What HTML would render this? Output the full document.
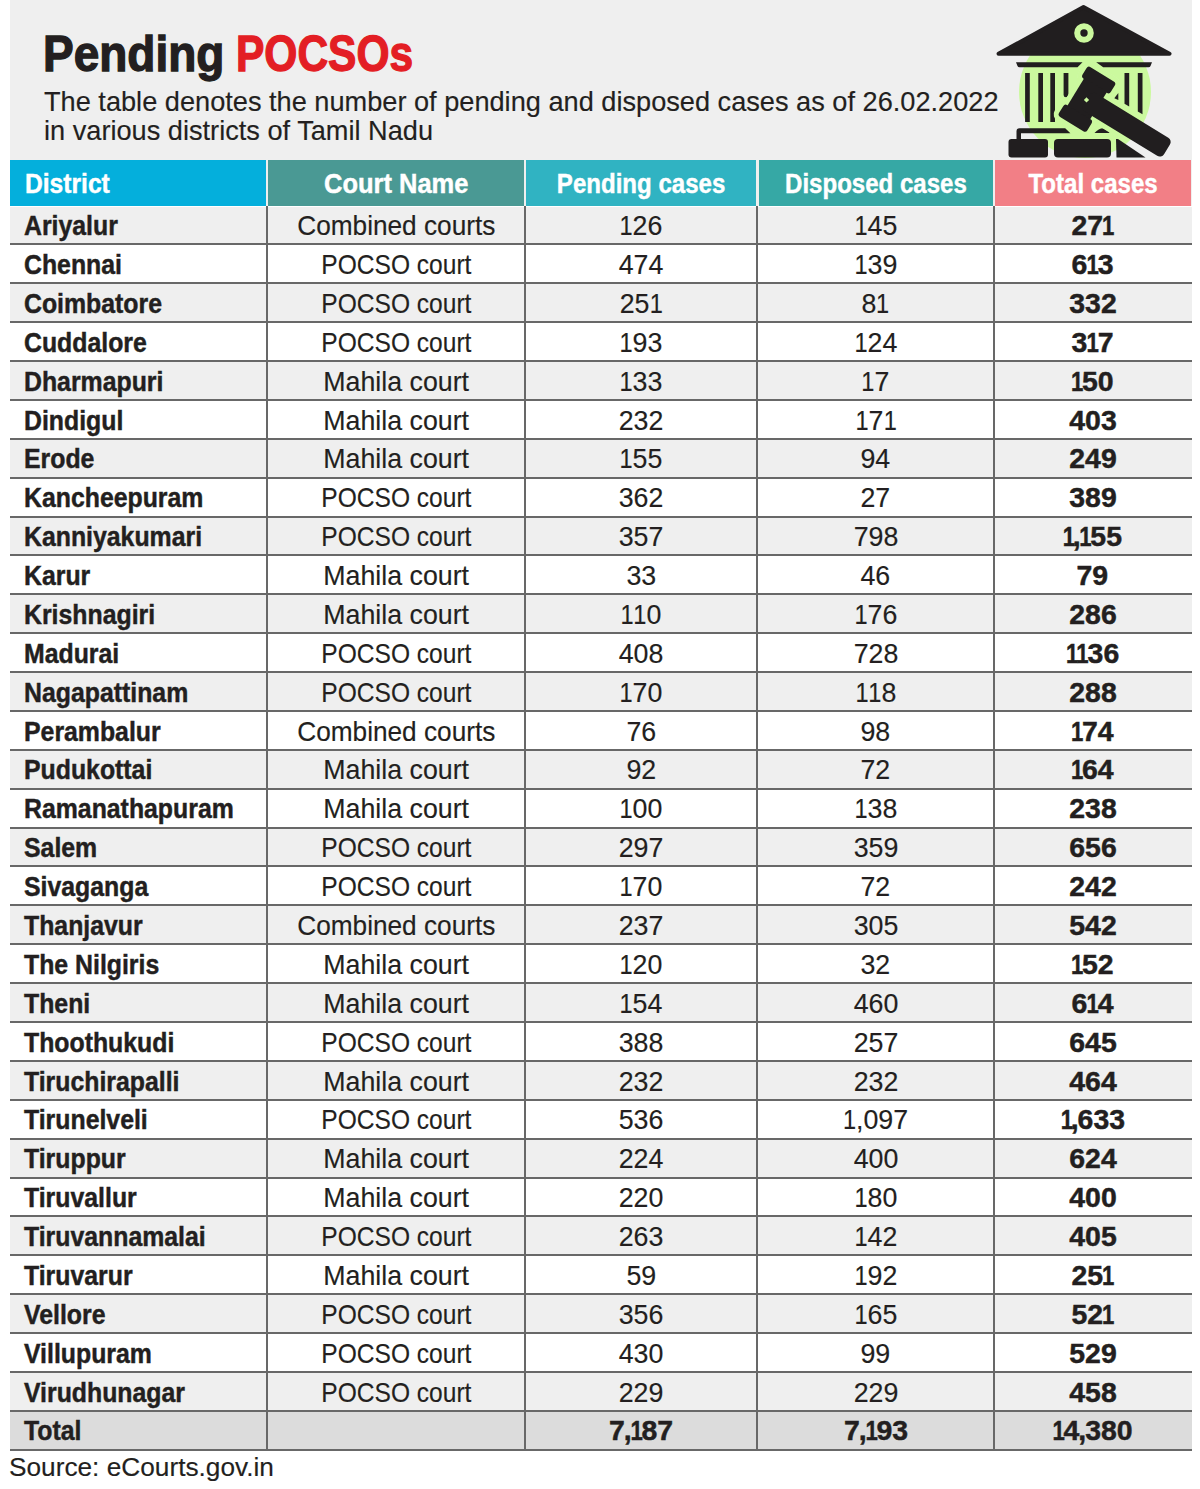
<!DOCTYPE html>
<html><head><meta charset="utf-8"><title>Pending POCSOs</title>
<style>
*{margin:0;padding:0;box-sizing:border-box}
html,body{width:1200px;height:1489px;background:#fff;overflow:hidden}
body{position:relative;font-family:"Liberation Sans",sans-serif;color:#231f20}
.t{position:absolute;white-space:nowrap}
.t span{display:inline-block}
.b{position:absolute}
</style></head><body>

<div class="b" style="left:10px;top:0;width:1181.5px;height:1450px;background:#efefef"></div>
<div class="t" style="left:42.5px;top:29.38px;width:257.5px;font-size:50px;line-height:50px;text-align:left;font-weight:700;color:#231f20;-webkit-text-stroke:1.3px"><span style="transform:scaleX(0.92);transform-origin:left">Pending</span></div>
<div class="t" style="left:236px;top:29.38px;width:364px;font-size:50px;line-height:50px;text-align:left;font-weight:700;color:#e31e24;-webkit-text-stroke:1.3px"><span style="transform:scaleX(0.85);transform-origin:left">POCSOs</span></div>
<div class="t" style="left:44px;top:87.29px;width:1056px;font-size:28.3px;line-height:28.3px;text-align:left;font-weight:400;color:#231f20;-webkit-text-stroke:0.15px"><span style="transform:scaleX(0.96);transform-origin:left">The table denotes the number of pending and disposed cases as of 26.02.2022</span></div>
<div class="t" style="left:44px;top:116.44px;width:1056px;font-size:28.3px;line-height:28.3px;text-align:left;font-weight:400;color:#231f20;-webkit-text-stroke:0.15px"><span style="transform:scaleX(0.96);transform-origin:left">in various districts of Tamil Nadu</span></div>
<div class="b" style="left:10px;top:159.6px;width:255.6px;height:46.2px;background:#04afdc"></div>
<div class="b" style="left:268.4px;top:159.6px;width:255.2px;height:46.2px;background:#4a9994"></div>
<div class="b" style="left:526.4px;top:159.6px;width:229.6px;height:46.2px;background:#30b3c2"></div>
<div class="b" style="left:758.8px;top:159.6px;width:233.8px;height:46.2px;background:#36a8a5"></div>
<div class="b" style="left:995.4px;top:159.6px;width:195.9px;height:46.2px;background:#f27f86"></div>
<div class="t" style="left:25px;top:169.29px;width:235px;font-size:28.3px;line-height:28.3px;text-align:left;font-weight:700;color:#fff;-webkit-text-stroke:0.45px"><span style="transform:scaleX(0.87);transform-origin:left">District</span></div>
<div class="t" style="left:267px;top:169.29px;width:258px;font-size:28.3px;line-height:28.3px;text-align:center;font-weight:700;color:#fff;-webkit-text-stroke:0.45px"><span style="transform:scaleX(0.9);transform-origin:center">Court Name</span></div>
<div class="t" style="left:525px;top:169.29px;width:232.4px;font-size:28.3px;line-height:28.3px;text-align:center;font-weight:700;color:#fff;-webkit-text-stroke:0.45px"><span style="transform:scaleX(0.85);transform-origin:center">Pending cases</span></div>
<div class="t" style="left:757.4px;top:169.29px;width:236.6px;font-size:28.3px;line-height:28.3px;text-align:center;font-weight:700;color:#fff;-webkit-text-stroke:0.45px"><span style="transform:scaleX(0.85);transform-origin:center">Disposed cases</span></div>
<div class="t" style="left:994px;top:169.29px;width:197.3px;font-size:28.3px;line-height:28.3px;text-align:center;font-weight:700;color:#fff;-webkit-text-stroke:0.45px"><span style="transform:scaleX(0.85);transform-origin:center">Total cases</span></div>
<div class="b" style="left:10px;top:207px;width:1181.5px;height:37.4px;background:#efefef"></div>
<div class="b" style="left:10px;top:244.4px;width:1181.5px;height:38.88px;background:#ffffff"></div>
<div class="b" style="left:10px;top:283.28px;width:1181.5px;height:38.88px;background:#efefef"></div>
<div class="b" style="left:10px;top:322.16px;width:1181.5px;height:38.88px;background:#ffffff"></div>
<div class="b" style="left:10px;top:361.04px;width:1181.5px;height:38.88px;background:#efefef"></div>
<div class="b" style="left:10px;top:399.92px;width:1181.5px;height:38.88px;background:#ffffff"></div>
<div class="b" style="left:10px;top:438.8px;width:1181.5px;height:38.88px;background:#efefef"></div>
<div class="b" style="left:10px;top:477.68px;width:1181.5px;height:38.88px;background:#ffffff"></div>
<div class="b" style="left:10px;top:516.56px;width:1181.5px;height:38.88px;background:#efefef"></div>
<div class="b" style="left:10px;top:555.44px;width:1181.5px;height:38.88px;background:#ffffff"></div>
<div class="b" style="left:10px;top:594.32px;width:1181.5px;height:38.88px;background:#efefef"></div>
<div class="b" style="left:10px;top:633.2px;width:1181.5px;height:38.88px;background:#ffffff"></div>
<div class="b" style="left:10px;top:672.08px;width:1181.5px;height:38.88px;background:#efefef"></div>
<div class="b" style="left:10px;top:710.96px;width:1181.5px;height:38.88px;background:#ffffff"></div>
<div class="b" style="left:10px;top:749.84px;width:1181.5px;height:38.88px;background:#efefef"></div>
<div class="b" style="left:10px;top:788.72px;width:1181.5px;height:38.88px;background:#ffffff"></div>
<div class="b" style="left:10px;top:827.6px;width:1181.5px;height:38.88px;background:#efefef"></div>
<div class="b" style="left:10px;top:866.48px;width:1181.5px;height:38.88px;background:#ffffff"></div>
<div class="b" style="left:10px;top:905.36px;width:1181.5px;height:38.88px;background:#efefef"></div>
<div class="b" style="left:10px;top:944.24px;width:1181.5px;height:38.88px;background:#ffffff"></div>
<div class="b" style="left:10px;top:983.12px;width:1181.5px;height:38.88px;background:#efefef"></div>
<div class="b" style="left:10px;top:1022px;width:1181.5px;height:38.88px;background:#ffffff"></div>
<div class="b" style="left:10px;top:1060.88px;width:1181.5px;height:38.88px;background:#efefef"></div>
<div class="b" style="left:10px;top:1099.76px;width:1181.5px;height:38.88px;background:#ffffff"></div>
<div class="b" style="left:10px;top:1138.64px;width:1181.5px;height:38.88px;background:#efefef"></div>
<div class="b" style="left:10px;top:1177.52px;width:1181.5px;height:38.88px;background:#ffffff"></div>
<div class="b" style="left:10px;top:1216.4px;width:1181.5px;height:38.88px;background:#efefef"></div>
<div class="b" style="left:10px;top:1255.28px;width:1181.5px;height:38.88px;background:#ffffff"></div>
<div class="b" style="left:10px;top:1294.16px;width:1181.5px;height:38.88px;background:#efefef"></div>
<div class="b" style="left:10px;top:1333.04px;width:1181.5px;height:38.88px;background:#ffffff"></div>
<div class="b" style="left:10px;top:1371.92px;width:1181.5px;height:38.88px;background:#efefef"></div>
<div class="b" style="left:10px;top:1410.8px;width:1181.5px;height:38.88px;background:#dcdcdc"></div>
<div class="b" style="left:10px;top:243.4px;width:1181.5px;height:2px;background:#686868"></div>
<div class="b" style="left:10px;top:282.28px;width:1181.5px;height:2px;background:#686868"></div>
<div class="b" style="left:10px;top:321.16px;width:1181.5px;height:2px;background:#686868"></div>
<div class="b" style="left:10px;top:360.04px;width:1181.5px;height:2px;background:#686868"></div>
<div class="b" style="left:10px;top:398.92px;width:1181.5px;height:2px;background:#686868"></div>
<div class="b" style="left:10px;top:437.8px;width:1181.5px;height:2px;background:#686868"></div>
<div class="b" style="left:10px;top:476.68px;width:1181.5px;height:2px;background:#686868"></div>
<div class="b" style="left:10px;top:515.56px;width:1181.5px;height:2px;background:#686868"></div>
<div class="b" style="left:10px;top:554.44px;width:1181.5px;height:2px;background:#686868"></div>
<div class="b" style="left:10px;top:593.32px;width:1181.5px;height:2px;background:#686868"></div>
<div class="b" style="left:10px;top:632.2px;width:1181.5px;height:2px;background:#686868"></div>
<div class="b" style="left:10px;top:671.08px;width:1181.5px;height:2px;background:#686868"></div>
<div class="b" style="left:10px;top:709.96px;width:1181.5px;height:2px;background:#686868"></div>
<div class="b" style="left:10px;top:748.84px;width:1181.5px;height:2px;background:#686868"></div>
<div class="b" style="left:10px;top:787.72px;width:1181.5px;height:2px;background:#686868"></div>
<div class="b" style="left:10px;top:826.6px;width:1181.5px;height:2px;background:#686868"></div>
<div class="b" style="left:10px;top:865.48px;width:1181.5px;height:2px;background:#686868"></div>
<div class="b" style="left:10px;top:904.36px;width:1181.5px;height:2px;background:#686868"></div>
<div class="b" style="left:10px;top:943.24px;width:1181.5px;height:2px;background:#686868"></div>
<div class="b" style="left:10px;top:982.12px;width:1181.5px;height:2px;background:#686868"></div>
<div class="b" style="left:10px;top:1021px;width:1181.5px;height:2px;background:#686868"></div>
<div class="b" style="left:10px;top:1059.88px;width:1181.5px;height:2px;background:#686868"></div>
<div class="b" style="left:10px;top:1098.76px;width:1181.5px;height:2px;background:#686868"></div>
<div class="b" style="left:10px;top:1137.64px;width:1181.5px;height:2px;background:#686868"></div>
<div class="b" style="left:10px;top:1176.52px;width:1181.5px;height:2px;background:#686868"></div>
<div class="b" style="left:10px;top:1215.4px;width:1181.5px;height:2px;background:#686868"></div>
<div class="b" style="left:10px;top:1254.28px;width:1181.5px;height:2px;background:#686868"></div>
<div class="b" style="left:10px;top:1293.16px;width:1181.5px;height:2px;background:#686868"></div>
<div class="b" style="left:10px;top:1332.04px;width:1181.5px;height:2px;background:#686868"></div>
<div class="b" style="left:10px;top:1370.92px;width:1181.5px;height:2px;background:#686868"></div>
<div class="b" style="left:10px;top:1409.8px;width:1181.5px;height:2px;background:#686868"></div>
<div class="b" style="left:10px;top:1448.68px;width:1181.5px;height:2px;background:#686868"></div>
<div class="b" style="left:10px;top:205.8px;width:1181.5px;height:1.2px;background:#fff"></div>
<div class="b" style="left:266px;top:205.8px;width:2px;height:1243.88px;background:#686868"></div>
<div class="b" style="left:524px;top:205.8px;width:2px;height:1243.88px;background:#686868"></div>
<div class="b" style="left:756.4px;top:205.8px;width:2px;height:1243.88px;background:#686868"></div>
<div class="b" style="left:993px;top:205.8px;width:2px;height:1243.88px;background:#686868"></div>
<div class="t" style="left:23.5px;top:212.14px;width:238.5px;font-size:27.6px;line-height:27.6px;text-align:left;font-weight:700;color:#231f20;-webkit-text-stroke:0.45px"><span style="transform:scaleX(0.9);transform-origin:left">Ariyalur</span></div>
<div class="t" style="left:267px;top:212.14px;width:258px;font-size:27.6px;line-height:27.6px;text-align:center;font-weight:400;color:#231f20;-webkit-text-stroke:0.15px"><span style="transform:scaleX(0.95);transform-origin:center">Combined courts</span></div>
<div class="t" style="left:525px;top:212.14px;width:232.4px;font-size:27.6px;line-height:27.6px;text-align:center;font-weight:400;color:#231f20;-webkit-text-stroke:0.15px"><span style="transform:scaleX(0.97);transform-origin:center"><b style="font-weight:inherit;display:inline-block;transform:scaleX(0.88);margin:0 -1.0px">1</b>26</span></div>
<div class="t" style="left:757.4px;top:212.14px;width:236.6px;font-size:27.6px;line-height:27.6px;text-align:center;font-weight:400;color:#231f20;-webkit-text-stroke:0.15px"><span style="transform:scaleX(0.97);transform-origin:center"><b style="font-weight:inherit;display:inline-block;transform:scaleX(0.88);margin:0 -1.0px">1</b>45</span></div>
<div class="t" style="left:994px;top:212.14px;width:197.3px;font-size:27.6px;line-height:27.6px;text-align:center;font-weight:700;color:#231f20;-webkit-text-stroke:0.45px"><span style="transform:scaleX(1.03);transform-origin:center">27<b style="font-weight:inherit;display:inline-block;transform:scaleX(0.78);margin:0 -2.5px">1</b></span></div>
<div class="t" style="left:23.5px;top:251.02px;width:238.5px;font-size:27.6px;line-height:27.6px;text-align:left;font-weight:700;color:#231f20;-webkit-text-stroke:0.45px"><span style="transform:scaleX(0.9);transform-origin:left">Chennai</span></div>
<div class="t" style="left:267px;top:251.02px;width:258px;font-size:27.6px;line-height:27.6px;text-align:center;font-weight:400;color:#231f20;-webkit-text-stroke:0.15px"><span style="transform:scaleX(0.89);transform-origin:center">POCSO court</span></div>
<div class="t" style="left:525px;top:251.02px;width:232.4px;font-size:27.6px;line-height:27.6px;text-align:center;font-weight:400;color:#231f20;-webkit-text-stroke:0.15px"><span style="transform:scaleX(0.97);transform-origin:center">474</span></div>
<div class="t" style="left:757.4px;top:251.02px;width:236.6px;font-size:27.6px;line-height:27.6px;text-align:center;font-weight:400;color:#231f20;-webkit-text-stroke:0.15px"><span style="transform:scaleX(0.97);transform-origin:center"><b style="font-weight:inherit;display:inline-block;transform:scaleX(0.88);margin:0 -1.0px">1</b>39</span></div>
<div class="t" style="left:994px;top:251.02px;width:197.3px;font-size:27.6px;line-height:27.6px;text-align:center;font-weight:700;color:#231f20;-webkit-text-stroke:0.45px"><span style="transform:scaleX(1.03);transform-origin:center">6<b style="font-weight:inherit;display:inline-block;transform:scaleX(0.78);margin:0 -2.5px">1</b>3</span></div>
<div class="t" style="left:23.5px;top:289.9px;width:238.5px;font-size:27.6px;line-height:27.6px;text-align:left;font-weight:700;color:#231f20;-webkit-text-stroke:0.45px"><span style="transform:scaleX(0.9);transform-origin:left">Coimbatore</span></div>
<div class="t" style="left:267px;top:289.9px;width:258px;font-size:27.6px;line-height:27.6px;text-align:center;font-weight:400;color:#231f20;-webkit-text-stroke:0.15px"><span style="transform:scaleX(0.89);transform-origin:center">POCSO court</span></div>
<div class="t" style="left:525px;top:289.9px;width:232.4px;font-size:27.6px;line-height:27.6px;text-align:center;font-weight:400;color:#231f20;-webkit-text-stroke:0.15px"><span style="transform:scaleX(0.97);transform-origin:center">25<b style="font-weight:inherit;display:inline-block;transform:scaleX(0.88);margin:0 -1.0px">1</b></span></div>
<div class="t" style="left:757.4px;top:289.9px;width:236.6px;font-size:27.6px;line-height:27.6px;text-align:center;font-weight:400;color:#231f20;-webkit-text-stroke:0.15px"><span style="transform:scaleX(0.97);transform-origin:center">8<b style="font-weight:inherit;display:inline-block;transform:scaleX(0.88);margin:0 -1.0px">1</b></span></div>
<div class="t" style="left:994px;top:289.9px;width:197.3px;font-size:27.6px;line-height:27.6px;text-align:center;font-weight:700;color:#231f20;-webkit-text-stroke:0.45px"><span style="transform:scaleX(1.03);transform-origin:center">332</span></div>
<div class="t" style="left:23.5px;top:328.78px;width:238.5px;font-size:27.6px;line-height:27.6px;text-align:left;font-weight:700;color:#231f20;-webkit-text-stroke:0.45px"><span style="transform:scaleX(0.9);transform-origin:left">Cuddalore</span></div>
<div class="t" style="left:267px;top:328.78px;width:258px;font-size:27.6px;line-height:27.6px;text-align:center;font-weight:400;color:#231f20;-webkit-text-stroke:0.15px"><span style="transform:scaleX(0.89);transform-origin:center">POCSO court</span></div>
<div class="t" style="left:525px;top:328.78px;width:232.4px;font-size:27.6px;line-height:27.6px;text-align:center;font-weight:400;color:#231f20;-webkit-text-stroke:0.15px"><span style="transform:scaleX(0.97);transform-origin:center"><b style="font-weight:inherit;display:inline-block;transform:scaleX(0.88);margin:0 -1.0px">1</b>93</span></div>
<div class="t" style="left:757.4px;top:328.78px;width:236.6px;font-size:27.6px;line-height:27.6px;text-align:center;font-weight:400;color:#231f20;-webkit-text-stroke:0.15px"><span style="transform:scaleX(0.97);transform-origin:center"><b style="font-weight:inherit;display:inline-block;transform:scaleX(0.88);margin:0 -1.0px">1</b>24</span></div>
<div class="t" style="left:994px;top:328.78px;width:197.3px;font-size:27.6px;line-height:27.6px;text-align:center;font-weight:700;color:#231f20;-webkit-text-stroke:0.45px"><span style="transform:scaleX(1.03);transform-origin:center">3<b style="font-weight:inherit;display:inline-block;transform:scaleX(0.78);margin:0 -2.5px">1</b>7</span></div>
<div class="t" style="left:23.5px;top:367.66px;width:238.5px;font-size:27.6px;line-height:27.6px;text-align:left;font-weight:700;color:#231f20;-webkit-text-stroke:0.45px"><span style="transform:scaleX(0.9);transform-origin:left">Dharmapuri</span></div>
<div class="t" style="left:267px;top:367.66px;width:258px;font-size:27.6px;line-height:27.6px;text-align:center;font-weight:400;color:#231f20;-webkit-text-stroke:0.15px"><span style="transform:scaleX(0.97);transform-origin:center">Mahila court</span></div>
<div class="t" style="left:525px;top:367.66px;width:232.4px;font-size:27.6px;line-height:27.6px;text-align:center;font-weight:400;color:#231f20;-webkit-text-stroke:0.15px"><span style="transform:scaleX(0.97);transform-origin:center"><b style="font-weight:inherit;display:inline-block;transform:scaleX(0.88);margin:0 -1.0px">1</b>33</span></div>
<div class="t" style="left:757.4px;top:367.66px;width:236.6px;font-size:27.6px;line-height:27.6px;text-align:center;font-weight:400;color:#231f20;-webkit-text-stroke:0.15px"><span style="transform:scaleX(0.97);transform-origin:center"><b style="font-weight:inherit;display:inline-block;transform:scaleX(0.88);margin:0 -1.0px">1</b>7</span></div>
<div class="t" style="left:994px;top:367.66px;width:197.3px;font-size:27.6px;line-height:27.6px;text-align:center;font-weight:700;color:#231f20;-webkit-text-stroke:0.45px"><span style="transform:scaleX(1.03);transform-origin:center"><b style="font-weight:inherit;display:inline-block;transform:scaleX(0.78);margin:0 -2.5px">1</b>50</span></div>
<div class="t" style="left:23.5px;top:406.54px;width:238.5px;font-size:27.6px;line-height:27.6px;text-align:left;font-weight:700;color:#231f20;-webkit-text-stroke:0.45px"><span style="transform:scaleX(0.9);transform-origin:left">Dindigul</span></div>
<div class="t" style="left:267px;top:406.54px;width:258px;font-size:27.6px;line-height:27.6px;text-align:center;font-weight:400;color:#231f20;-webkit-text-stroke:0.15px"><span style="transform:scaleX(0.97);transform-origin:center">Mahila court</span></div>
<div class="t" style="left:525px;top:406.54px;width:232.4px;font-size:27.6px;line-height:27.6px;text-align:center;font-weight:400;color:#231f20;-webkit-text-stroke:0.15px"><span style="transform:scaleX(0.97);transform-origin:center">232</span></div>
<div class="t" style="left:757.4px;top:406.54px;width:236.6px;font-size:27.6px;line-height:27.6px;text-align:center;font-weight:400;color:#231f20;-webkit-text-stroke:0.15px"><span style="transform:scaleX(0.97);transform-origin:center"><b style="font-weight:inherit;display:inline-block;transform:scaleX(0.88);margin:0 -1.0px">1</b>7<b style="font-weight:inherit;display:inline-block;transform:scaleX(0.88);margin:0 -1.0px">1</b></span></div>
<div class="t" style="left:994px;top:406.54px;width:197.3px;font-size:27.6px;line-height:27.6px;text-align:center;font-weight:700;color:#231f20;-webkit-text-stroke:0.45px"><span style="transform:scaleX(1.03);transform-origin:center">403</span></div>
<div class="t" style="left:23.5px;top:445.42px;width:238.5px;font-size:27.6px;line-height:27.6px;text-align:left;font-weight:700;color:#231f20;-webkit-text-stroke:0.45px"><span style="transform:scaleX(0.9);transform-origin:left">Erode</span></div>
<div class="t" style="left:267px;top:445.42px;width:258px;font-size:27.6px;line-height:27.6px;text-align:center;font-weight:400;color:#231f20;-webkit-text-stroke:0.15px"><span style="transform:scaleX(0.97);transform-origin:center">Mahila court</span></div>
<div class="t" style="left:525px;top:445.42px;width:232.4px;font-size:27.6px;line-height:27.6px;text-align:center;font-weight:400;color:#231f20;-webkit-text-stroke:0.15px"><span style="transform:scaleX(0.97);transform-origin:center"><b style="font-weight:inherit;display:inline-block;transform:scaleX(0.88);margin:0 -1.0px">1</b>55</span></div>
<div class="t" style="left:757.4px;top:445.42px;width:236.6px;font-size:27.6px;line-height:27.6px;text-align:center;font-weight:400;color:#231f20;-webkit-text-stroke:0.15px"><span style="transform:scaleX(0.97);transform-origin:center">94</span></div>
<div class="t" style="left:994px;top:445.42px;width:197.3px;font-size:27.6px;line-height:27.6px;text-align:center;font-weight:700;color:#231f20;-webkit-text-stroke:0.45px"><span style="transform:scaleX(1.03);transform-origin:center">249</span></div>
<div class="t" style="left:23.5px;top:484.3px;width:238.5px;font-size:27.6px;line-height:27.6px;text-align:left;font-weight:700;color:#231f20;-webkit-text-stroke:0.45px"><span style="transform:scaleX(0.9);transform-origin:left">Kancheepuram</span></div>
<div class="t" style="left:267px;top:484.3px;width:258px;font-size:27.6px;line-height:27.6px;text-align:center;font-weight:400;color:#231f20;-webkit-text-stroke:0.15px"><span style="transform:scaleX(0.89);transform-origin:center">POCSO court</span></div>
<div class="t" style="left:525px;top:484.3px;width:232.4px;font-size:27.6px;line-height:27.6px;text-align:center;font-weight:400;color:#231f20;-webkit-text-stroke:0.15px"><span style="transform:scaleX(0.97);transform-origin:center">362</span></div>
<div class="t" style="left:757.4px;top:484.3px;width:236.6px;font-size:27.6px;line-height:27.6px;text-align:center;font-weight:400;color:#231f20;-webkit-text-stroke:0.15px"><span style="transform:scaleX(0.97);transform-origin:center">27</span></div>
<div class="t" style="left:994px;top:484.3px;width:197.3px;font-size:27.6px;line-height:27.6px;text-align:center;font-weight:700;color:#231f20;-webkit-text-stroke:0.45px"><span style="transform:scaleX(1.03);transform-origin:center">389</span></div>
<div class="t" style="left:23.5px;top:523.18px;width:238.5px;font-size:27.6px;line-height:27.6px;text-align:left;font-weight:700;color:#231f20;-webkit-text-stroke:0.45px"><span style="transform:scaleX(0.9);transform-origin:left">Kanniyakumari</span></div>
<div class="t" style="left:267px;top:523.18px;width:258px;font-size:27.6px;line-height:27.6px;text-align:center;font-weight:400;color:#231f20;-webkit-text-stroke:0.15px"><span style="transform:scaleX(0.89);transform-origin:center">POCSO court</span></div>
<div class="t" style="left:525px;top:523.18px;width:232.4px;font-size:27.6px;line-height:27.6px;text-align:center;font-weight:400;color:#231f20;-webkit-text-stroke:0.15px"><span style="transform:scaleX(0.97);transform-origin:center">357</span></div>
<div class="t" style="left:757.4px;top:523.18px;width:236.6px;font-size:27.6px;line-height:27.6px;text-align:center;font-weight:400;color:#231f20;-webkit-text-stroke:0.15px"><span style="transform:scaleX(0.97);transform-origin:center">798</span></div>
<div class="t" style="left:994px;top:523.18px;width:197.3px;font-size:27.6px;line-height:27.6px;text-align:center;font-weight:700;color:#231f20;-webkit-text-stroke:0.45px"><span style="transform:scaleX(1.03);transform-origin:center"><b style="font-weight:inherit;display:inline-block;transform:scaleX(0.78);margin:0 -2.5px">1</b><b style="font-weight:inherit;margin:0 -1px">,</b><b style="font-weight:inherit;display:inline-block;transform:scaleX(0.78);margin:0 -2.5px">1</b>55</span></div>
<div class="t" style="left:23.5px;top:562.06px;width:238.5px;font-size:27.6px;line-height:27.6px;text-align:left;font-weight:700;color:#231f20;-webkit-text-stroke:0.45px"><span style="transform:scaleX(0.9);transform-origin:left">Karur</span></div>
<div class="t" style="left:267px;top:562.06px;width:258px;font-size:27.6px;line-height:27.6px;text-align:center;font-weight:400;color:#231f20;-webkit-text-stroke:0.15px"><span style="transform:scaleX(0.97);transform-origin:center">Mahila court</span></div>
<div class="t" style="left:525px;top:562.06px;width:232.4px;font-size:27.6px;line-height:27.6px;text-align:center;font-weight:400;color:#231f20;-webkit-text-stroke:0.15px"><span style="transform:scaleX(0.97);transform-origin:center">33</span></div>
<div class="t" style="left:757.4px;top:562.06px;width:236.6px;font-size:27.6px;line-height:27.6px;text-align:center;font-weight:400;color:#231f20;-webkit-text-stroke:0.15px"><span style="transform:scaleX(0.97);transform-origin:center">46</span></div>
<div class="t" style="left:994px;top:562.06px;width:197.3px;font-size:27.6px;line-height:27.6px;text-align:center;font-weight:700;color:#231f20;-webkit-text-stroke:0.45px"><span style="transform:scaleX(1.03);transform-origin:center">79</span></div>
<div class="t" style="left:23.5px;top:600.94px;width:238.5px;font-size:27.6px;line-height:27.6px;text-align:left;font-weight:700;color:#231f20;-webkit-text-stroke:0.45px"><span style="transform:scaleX(0.9);transform-origin:left">Krishnagiri</span></div>
<div class="t" style="left:267px;top:600.94px;width:258px;font-size:27.6px;line-height:27.6px;text-align:center;font-weight:400;color:#231f20;-webkit-text-stroke:0.15px"><span style="transform:scaleX(0.97);transform-origin:center">Mahila court</span></div>
<div class="t" style="left:525px;top:600.94px;width:232.4px;font-size:27.6px;line-height:27.6px;text-align:center;font-weight:400;color:#231f20;-webkit-text-stroke:0.15px"><span style="transform:scaleX(0.97);transform-origin:center"><b style="font-weight:inherit;display:inline-block;transform:scaleX(0.88);margin:0 -1.0px">1</b><b style="font-weight:inherit;display:inline-block;transform:scaleX(0.88);margin:0 -1.0px">1</b>0</span></div>
<div class="t" style="left:757.4px;top:600.94px;width:236.6px;font-size:27.6px;line-height:27.6px;text-align:center;font-weight:400;color:#231f20;-webkit-text-stroke:0.15px"><span style="transform:scaleX(0.97);transform-origin:center"><b style="font-weight:inherit;display:inline-block;transform:scaleX(0.88);margin:0 -1.0px">1</b>76</span></div>
<div class="t" style="left:994px;top:600.94px;width:197.3px;font-size:27.6px;line-height:27.6px;text-align:center;font-weight:700;color:#231f20;-webkit-text-stroke:0.45px"><span style="transform:scaleX(1.03);transform-origin:center">286</span></div>
<div class="t" style="left:23.5px;top:639.82px;width:238.5px;font-size:27.6px;line-height:27.6px;text-align:left;font-weight:700;color:#231f20;-webkit-text-stroke:0.45px"><span style="transform:scaleX(0.9);transform-origin:left">Madurai</span></div>
<div class="t" style="left:267px;top:639.82px;width:258px;font-size:27.6px;line-height:27.6px;text-align:center;font-weight:400;color:#231f20;-webkit-text-stroke:0.15px"><span style="transform:scaleX(0.89);transform-origin:center">POCSO court</span></div>
<div class="t" style="left:525px;top:639.82px;width:232.4px;font-size:27.6px;line-height:27.6px;text-align:center;font-weight:400;color:#231f20;-webkit-text-stroke:0.15px"><span style="transform:scaleX(0.97);transform-origin:center">408</span></div>
<div class="t" style="left:757.4px;top:639.82px;width:236.6px;font-size:27.6px;line-height:27.6px;text-align:center;font-weight:400;color:#231f20;-webkit-text-stroke:0.15px"><span style="transform:scaleX(0.97);transform-origin:center">728</span></div>
<div class="t" style="left:994px;top:639.82px;width:197.3px;font-size:27.6px;line-height:27.6px;text-align:center;font-weight:700;color:#231f20;-webkit-text-stroke:0.45px"><span style="transform:scaleX(1.03);transform-origin:center"><b style="font-weight:inherit;display:inline-block;transform:scaleX(0.78);margin:0 -2.5px">1</b><b style="font-weight:inherit;display:inline-block;transform:scaleX(0.78);margin:0 -2.5px">1</b>36</span></div>
<div class="t" style="left:23.5px;top:678.7px;width:238.5px;font-size:27.6px;line-height:27.6px;text-align:left;font-weight:700;color:#231f20;-webkit-text-stroke:0.45px"><span style="transform:scaleX(0.9);transform-origin:left">Nagapattinam</span></div>
<div class="t" style="left:267px;top:678.7px;width:258px;font-size:27.6px;line-height:27.6px;text-align:center;font-weight:400;color:#231f20;-webkit-text-stroke:0.15px"><span style="transform:scaleX(0.89);transform-origin:center">POCSO court</span></div>
<div class="t" style="left:525px;top:678.7px;width:232.4px;font-size:27.6px;line-height:27.6px;text-align:center;font-weight:400;color:#231f20;-webkit-text-stroke:0.15px"><span style="transform:scaleX(0.97);transform-origin:center"><b style="font-weight:inherit;display:inline-block;transform:scaleX(0.88);margin:0 -1.0px">1</b>70</span></div>
<div class="t" style="left:757.4px;top:678.7px;width:236.6px;font-size:27.6px;line-height:27.6px;text-align:center;font-weight:400;color:#231f20;-webkit-text-stroke:0.15px"><span style="transform:scaleX(0.97);transform-origin:center"><b style="font-weight:inherit;display:inline-block;transform:scaleX(0.88);margin:0 -1.0px">1</b><b style="font-weight:inherit;display:inline-block;transform:scaleX(0.88);margin:0 -1.0px">1</b>8</span></div>
<div class="t" style="left:994px;top:678.7px;width:197.3px;font-size:27.6px;line-height:27.6px;text-align:center;font-weight:700;color:#231f20;-webkit-text-stroke:0.45px"><span style="transform:scaleX(1.03);transform-origin:center">288</span></div>
<div class="t" style="left:23.5px;top:717.58px;width:238.5px;font-size:27.6px;line-height:27.6px;text-align:left;font-weight:700;color:#231f20;-webkit-text-stroke:0.45px"><span style="transform:scaleX(0.9);transform-origin:left">Perambalur</span></div>
<div class="t" style="left:267px;top:717.58px;width:258px;font-size:27.6px;line-height:27.6px;text-align:center;font-weight:400;color:#231f20;-webkit-text-stroke:0.15px"><span style="transform:scaleX(0.95);transform-origin:center">Combined courts</span></div>
<div class="t" style="left:525px;top:717.58px;width:232.4px;font-size:27.6px;line-height:27.6px;text-align:center;font-weight:400;color:#231f20;-webkit-text-stroke:0.15px"><span style="transform:scaleX(0.97);transform-origin:center">76</span></div>
<div class="t" style="left:757.4px;top:717.58px;width:236.6px;font-size:27.6px;line-height:27.6px;text-align:center;font-weight:400;color:#231f20;-webkit-text-stroke:0.15px"><span style="transform:scaleX(0.97);transform-origin:center">98</span></div>
<div class="t" style="left:994px;top:717.58px;width:197.3px;font-size:27.6px;line-height:27.6px;text-align:center;font-weight:700;color:#231f20;-webkit-text-stroke:0.45px"><span style="transform:scaleX(1.03);transform-origin:center"><b style="font-weight:inherit;display:inline-block;transform:scaleX(0.78);margin:0 -2.5px">1</b>74</span></div>
<div class="t" style="left:23.5px;top:756.46px;width:238.5px;font-size:27.6px;line-height:27.6px;text-align:left;font-weight:700;color:#231f20;-webkit-text-stroke:0.45px"><span style="transform:scaleX(0.9);transform-origin:left">Pudukottai</span></div>
<div class="t" style="left:267px;top:756.46px;width:258px;font-size:27.6px;line-height:27.6px;text-align:center;font-weight:400;color:#231f20;-webkit-text-stroke:0.15px"><span style="transform:scaleX(0.97);transform-origin:center">Mahila court</span></div>
<div class="t" style="left:525px;top:756.46px;width:232.4px;font-size:27.6px;line-height:27.6px;text-align:center;font-weight:400;color:#231f20;-webkit-text-stroke:0.15px"><span style="transform:scaleX(0.97);transform-origin:center">92</span></div>
<div class="t" style="left:757.4px;top:756.46px;width:236.6px;font-size:27.6px;line-height:27.6px;text-align:center;font-weight:400;color:#231f20;-webkit-text-stroke:0.15px"><span style="transform:scaleX(0.97);transform-origin:center">72</span></div>
<div class="t" style="left:994px;top:756.46px;width:197.3px;font-size:27.6px;line-height:27.6px;text-align:center;font-weight:700;color:#231f20;-webkit-text-stroke:0.45px"><span style="transform:scaleX(1.03);transform-origin:center"><b style="font-weight:inherit;display:inline-block;transform:scaleX(0.78);margin:0 -2.5px">1</b>64</span></div>
<div class="t" style="left:23.5px;top:795.34px;width:238.5px;font-size:27.6px;line-height:27.6px;text-align:left;font-weight:700;color:#231f20;-webkit-text-stroke:0.45px"><span style="transform:scaleX(0.9);transform-origin:left">Ramanathapuram</span></div>
<div class="t" style="left:267px;top:795.34px;width:258px;font-size:27.6px;line-height:27.6px;text-align:center;font-weight:400;color:#231f20;-webkit-text-stroke:0.15px"><span style="transform:scaleX(0.97);transform-origin:center">Mahila court</span></div>
<div class="t" style="left:525px;top:795.34px;width:232.4px;font-size:27.6px;line-height:27.6px;text-align:center;font-weight:400;color:#231f20;-webkit-text-stroke:0.15px"><span style="transform:scaleX(0.97);transform-origin:center"><b style="font-weight:inherit;display:inline-block;transform:scaleX(0.88);margin:0 -1.0px">1</b>00</span></div>
<div class="t" style="left:757.4px;top:795.34px;width:236.6px;font-size:27.6px;line-height:27.6px;text-align:center;font-weight:400;color:#231f20;-webkit-text-stroke:0.15px"><span style="transform:scaleX(0.97);transform-origin:center"><b style="font-weight:inherit;display:inline-block;transform:scaleX(0.88);margin:0 -1.0px">1</b>38</span></div>
<div class="t" style="left:994px;top:795.34px;width:197.3px;font-size:27.6px;line-height:27.6px;text-align:center;font-weight:700;color:#231f20;-webkit-text-stroke:0.45px"><span style="transform:scaleX(1.03);transform-origin:center">238</span></div>
<div class="t" style="left:23.5px;top:834.22px;width:238.5px;font-size:27.6px;line-height:27.6px;text-align:left;font-weight:700;color:#231f20;-webkit-text-stroke:0.45px"><span style="transform:scaleX(0.9);transform-origin:left">Salem</span></div>
<div class="t" style="left:267px;top:834.22px;width:258px;font-size:27.6px;line-height:27.6px;text-align:center;font-weight:400;color:#231f20;-webkit-text-stroke:0.15px"><span style="transform:scaleX(0.89);transform-origin:center">POCSO court</span></div>
<div class="t" style="left:525px;top:834.22px;width:232.4px;font-size:27.6px;line-height:27.6px;text-align:center;font-weight:400;color:#231f20;-webkit-text-stroke:0.15px"><span style="transform:scaleX(0.97);transform-origin:center">297</span></div>
<div class="t" style="left:757.4px;top:834.22px;width:236.6px;font-size:27.6px;line-height:27.6px;text-align:center;font-weight:400;color:#231f20;-webkit-text-stroke:0.15px"><span style="transform:scaleX(0.97);transform-origin:center">359</span></div>
<div class="t" style="left:994px;top:834.22px;width:197.3px;font-size:27.6px;line-height:27.6px;text-align:center;font-weight:700;color:#231f20;-webkit-text-stroke:0.45px"><span style="transform:scaleX(1.03);transform-origin:center">656</span></div>
<div class="t" style="left:23.5px;top:873.1px;width:238.5px;font-size:27.6px;line-height:27.6px;text-align:left;font-weight:700;color:#231f20;-webkit-text-stroke:0.45px"><span style="transform:scaleX(0.9);transform-origin:left">Sivaganga</span></div>
<div class="t" style="left:267px;top:873.1px;width:258px;font-size:27.6px;line-height:27.6px;text-align:center;font-weight:400;color:#231f20;-webkit-text-stroke:0.15px"><span style="transform:scaleX(0.89);transform-origin:center">POCSO court</span></div>
<div class="t" style="left:525px;top:873.1px;width:232.4px;font-size:27.6px;line-height:27.6px;text-align:center;font-weight:400;color:#231f20;-webkit-text-stroke:0.15px"><span style="transform:scaleX(0.97);transform-origin:center"><b style="font-weight:inherit;display:inline-block;transform:scaleX(0.88);margin:0 -1.0px">1</b>70</span></div>
<div class="t" style="left:757.4px;top:873.1px;width:236.6px;font-size:27.6px;line-height:27.6px;text-align:center;font-weight:400;color:#231f20;-webkit-text-stroke:0.15px"><span style="transform:scaleX(0.97);transform-origin:center">72</span></div>
<div class="t" style="left:994px;top:873.1px;width:197.3px;font-size:27.6px;line-height:27.6px;text-align:center;font-weight:700;color:#231f20;-webkit-text-stroke:0.45px"><span style="transform:scaleX(1.03);transform-origin:center">242</span></div>
<div class="t" style="left:23.5px;top:911.98px;width:238.5px;font-size:27.6px;line-height:27.6px;text-align:left;font-weight:700;color:#231f20;-webkit-text-stroke:0.45px"><span style="transform:scaleX(0.9);transform-origin:left">Thanjavur</span></div>
<div class="t" style="left:267px;top:911.98px;width:258px;font-size:27.6px;line-height:27.6px;text-align:center;font-weight:400;color:#231f20;-webkit-text-stroke:0.15px"><span style="transform:scaleX(0.95);transform-origin:center">Combined courts</span></div>
<div class="t" style="left:525px;top:911.98px;width:232.4px;font-size:27.6px;line-height:27.6px;text-align:center;font-weight:400;color:#231f20;-webkit-text-stroke:0.15px"><span style="transform:scaleX(0.97);transform-origin:center">237</span></div>
<div class="t" style="left:757.4px;top:911.98px;width:236.6px;font-size:27.6px;line-height:27.6px;text-align:center;font-weight:400;color:#231f20;-webkit-text-stroke:0.15px"><span style="transform:scaleX(0.97);transform-origin:center">305</span></div>
<div class="t" style="left:994px;top:911.98px;width:197.3px;font-size:27.6px;line-height:27.6px;text-align:center;font-weight:700;color:#231f20;-webkit-text-stroke:0.45px"><span style="transform:scaleX(1.03);transform-origin:center">542</span></div>
<div class="t" style="left:23.5px;top:950.86px;width:238.5px;font-size:27.6px;line-height:27.6px;text-align:left;font-weight:700;color:#231f20;-webkit-text-stroke:0.45px"><span style="transform:scaleX(0.9);transform-origin:left">The Nilgiris</span></div>
<div class="t" style="left:267px;top:950.86px;width:258px;font-size:27.6px;line-height:27.6px;text-align:center;font-weight:400;color:#231f20;-webkit-text-stroke:0.15px"><span style="transform:scaleX(0.97);transform-origin:center">Mahila court</span></div>
<div class="t" style="left:525px;top:950.86px;width:232.4px;font-size:27.6px;line-height:27.6px;text-align:center;font-weight:400;color:#231f20;-webkit-text-stroke:0.15px"><span style="transform:scaleX(0.97);transform-origin:center"><b style="font-weight:inherit;display:inline-block;transform:scaleX(0.88);margin:0 -1.0px">1</b>20</span></div>
<div class="t" style="left:757.4px;top:950.86px;width:236.6px;font-size:27.6px;line-height:27.6px;text-align:center;font-weight:400;color:#231f20;-webkit-text-stroke:0.15px"><span style="transform:scaleX(0.97);transform-origin:center">32</span></div>
<div class="t" style="left:994px;top:950.86px;width:197.3px;font-size:27.6px;line-height:27.6px;text-align:center;font-weight:700;color:#231f20;-webkit-text-stroke:0.45px"><span style="transform:scaleX(1.03);transform-origin:center"><b style="font-weight:inherit;display:inline-block;transform:scaleX(0.78);margin:0 -2.5px">1</b>52</span></div>
<div class="t" style="left:23.5px;top:989.74px;width:238.5px;font-size:27.6px;line-height:27.6px;text-align:left;font-weight:700;color:#231f20;-webkit-text-stroke:0.45px"><span style="transform:scaleX(0.9);transform-origin:left">Theni</span></div>
<div class="t" style="left:267px;top:989.74px;width:258px;font-size:27.6px;line-height:27.6px;text-align:center;font-weight:400;color:#231f20;-webkit-text-stroke:0.15px"><span style="transform:scaleX(0.97);transform-origin:center">Mahila court</span></div>
<div class="t" style="left:525px;top:989.74px;width:232.4px;font-size:27.6px;line-height:27.6px;text-align:center;font-weight:400;color:#231f20;-webkit-text-stroke:0.15px"><span style="transform:scaleX(0.97);transform-origin:center"><b style="font-weight:inherit;display:inline-block;transform:scaleX(0.88);margin:0 -1.0px">1</b>54</span></div>
<div class="t" style="left:757.4px;top:989.74px;width:236.6px;font-size:27.6px;line-height:27.6px;text-align:center;font-weight:400;color:#231f20;-webkit-text-stroke:0.15px"><span style="transform:scaleX(0.97);transform-origin:center">460</span></div>
<div class="t" style="left:994px;top:989.74px;width:197.3px;font-size:27.6px;line-height:27.6px;text-align:center;font-weight:700;color:#231f20;-webkit-text-stroke:0.45px"><span style="transform:scaleX(1.03);transform-origin:center">6<b style="font-weight:inherit;display:inline-block;transform:scaleX(0.78);margin:0 -2.5px">1</b>4</span></div>
<div class="t" style="left:23.5px;top:1028.62px;width:238.5px;font-size:27.6px;line-height:27.6px;text-align:left;font-weight:700;color:#231f20;-webkit-text-stroke:0.45px"><span style="transform:scaleX(0.9);transform-origin:left">Thoothukudi</span></div>
<div class="t" style="left:267px;top:1028.62px;width:258px;font-size:27.6px;line-height:27.6px;text-align:center;font-weight:400;color:#231f20;-webkit-text-stroke:0.15px"><span style="transform:scaleX(0.89);transform-origin:center">POCSO court</span></div>
<div class="t" style="left:525px;top:1028.62px;width:232.4px;font-size:27.6px;line-height:27.6px;text-align:center;font-weight:400;color:#231f20;-webkit-text-stroke:0.15px"><span style="transform:scaleX(0.97);transform-origin:center">388</span></div>
<div class="t" style="left:757.4px;top:1028.62px;width:236.6px;font-size:27.6px;line-height:27.6px;text-align:center;font-weight:400;color:#231f20;-webkit-text-stroke:0.15px"><span style="transform:scaleX(0.97);transform-origin:center">257</span></div>
<div class="t" style="left:994px;top:1028.62px;width:197.3px;font-size:27.6px;line-height:27.6px;text-align:center;font-weight:700;color:#231f20;-webkit-text-stroke:0.45px"><span style="transform:scaleX(1.03);transform-origin:center">645</span></div>
<div class="t" style="left:23.5px;top:1067.5px;width:238.5px;font-size:27.6px;line-height:27.6px;text-align:left;font-weight:700;color:#231f20;-webkit-text-stroke:0.45px"><span style="transform:scaleX(0.9);transform-origin:left">Tiruchirapalli</span></div>
<div class="t" style="left:267px;top:1067.5px;width:258px;font-size:27.6px;line-height:27.6px;text-align:center;font-weight:400;color:#231f20;-webkit-text-stroke:0.15px"><span style="transform:scaleX(0.97);transform-origin:center">Mahila court</span></div>
<div class="t" style="left:525px;top:1067.5px;width:232.4px;font-size:27.6px;line-height:27.6px;text-align:center;font-weight:400;color:#231f20;-webkit-text-stroke:0.15px"><span style="transform:scaleX(0.97);transform-origin:center">232</span></div>
<div class="t" style="left:757.4px;top:1067.5px;width:236.6px;font-size:27.6px;line-height:27.6px;text-align:center;font-weight:400;color:#231f20;-webkit-text-stroke:0.15px"><span style="transform:scaleX(0.97);transform-origin:center">232</span></div>
<div class="t" style="left:994px;top:1067.5px;width:197.3px;font-size:27.6px;line-height:27.6px;text-align:center;font-weight:700;color:#231f20;-webkit-text-stroke:0.45px"><span style="transform:scaleX(1.03);transform-origin:center">464</span></div>
<div class="t" style="left:23.5px;top:1106.38px;width:238.5px;font-size:27.6px;line-height:27.6px;text-align:left;font-weight:700;color:#231f20;-webkit-text-stroke:0.45px"><span style="transform:scaleX(0.9);transform-origin:left">Tirunelveli</span></div>
<div class="t" style="left:267px;top:1106.38px;width:258px;font-size:27.6px;line-height:27.6px;text-align:center;font-weight:400;color:#231f20;-webkit-text-stroke:0.15px"><span style="transform:scaleX(0.89);transform-origin:center">POCSO court</span></div>
<div class="t" style="left:525px;top:1106.38px;width:232.4px;font-size:27.6px;line-height:27.6px;text-align:center;font-weight:400;color:#231f20;-webkit-text-stroke:0.15px"><span style="transform:scaleX(0.97);transform-origin:center">536</span></div>
<div class="t" style="left:757.4px;top:1106.38px;width:236.6px;font-size:27.6px;line-height:27.6px;text-align:center;font-weight:400;color:#231f20;-webkit-text-stroke:0.15px"><span style="transform:scaleX(0.97);transform-origin:center"><b style="font-weight:inherit;display:inline-block;transform:scaleX(0.88);margin:0 -1.0px">1</b>,097</span></div>
<div class="t" style="left:994px;top:1106.38px;width:197.3px;font-size:27.6px;line-height:27.6px;text-align:center;font-weight:700;color:#231f20;-webkit-text-stroke:0.45px"><span style="transform:scaleX(1.03);transform-origin:center"><b style="font-weight:inherit;display:inline-block;transform:scaleX(0.78);margin:0 -2.5px">1</b><b style="font-weight:inherit;margin:0 -1px">,</b>633</span></div>
<div class="t" style="left:23.5px;top:1145.26px;width:238.5px;font-size:27.6px;line-height:27.6px;text-align:left;font-weight:700;color:#231f20;-webkit-text-stroke:0.45px"><span style="transform:scaleX(0.9);transform-origin:left">Tiruppur</span></div>
<div class="t" style="left:267px;top:1145.26px;width:258px;font-size:27.6px;line-height:27.6px;text-align:center;font-weight:400;color:#231f20;-webkit-text-stroke:0.15px"><span style="transform:scaleX(0.97);transform-origin:center">Mahila court</span></div>
<div class="t" style="left:525px;top:1145.26px;width:232.4px;font-size:27.6px;line-height:27.6px;text-align:center;font-weight:400;color:#231f20;-webkit-text-stroke:0.15px"><span style="transform:scaleX(0.97);transform-origin:center">224</span></div>
<div class="t" style="left:757.4px;top:1145.26px;width:236.6px;font-size:27.6px;line-height:27.6px;text-align:center;font-weight:400;color:#231f20;-webkit-text-stroke:0.15px"><span style="transform:scaleX(0.97);transform-origin:center">400</span></div>
<div class="t" style="left:994px;top:1145.26px;width:197.3px;font-size:27.6px;line-height:27.6px;text-align:center;font-weight:700;color:#231f20;-webkit-text-stroke:0.45px"><span style="transform:scaleX(1.03);transform-origin:center">624</span></div>
<div class="t" style="left:23.5px;top:1184.14px;width:238.5px;font-size:27.6px;line-height:27.6px;text-align:left;font-weight:700;color:#231f20;-webkit-text-stroke:0.45px"><span style="transform:scaleX(0.9);transform-origin:left">Tiruvallur</span></div>
<div class="t" style="left:267px;top:1184.14px;width:258px;font-size:27.6px;line-height:27.6px;text-align:center;font-weight:400;color:#231f20;-webkit-text-stroke:0.15px"><span style="transform:scaleX(0.97);transform-origin:center">Mahila court</span></div>
<div class="t" style="left:525px;top:1184.14px;width:232.4px;font-size:27.6px;line-height:27.6px;text-align:center;font-weight:400;color:#231f20;-webkit-text-stroke:0.15px"><span style="transform:scaleX(0.97);transform-origin:center">220</span></div>
<div class="t" style="left:757.4px;top:1184.14px;width:236.6px;font-size:27.6px;line-height:27.6px;text-align:center;font-weight:400;color:#231f20;-webkit-text-stroke:0.15px"><span style="transform:scaleX(0.97);transform-origin:center"><b style="font-weight:inherit;display:inline-block;transform:scaleX(0.88);margin:0 -1.0px">1</b>80</span></div>
<div class="t" style="left:994px;top:1184.14px;width:197.3px;font-size:27.6px;line-height:27.6px;text-align:center;font-weight:700;color:#231f20;-webkit-text-stroke:0.45px"><span style="transform:scaleX(1.03);transform-origin:center">400</span></div>
<div class="t" style="left:23.5px;top:1223.02px;width:238.5px;font-size:27.6px;line-height:27.6px;text-align:left;font-weight:700;color:#231f20;-webkit-text-stroke:0.45px"><span style="transform:scaleX(0.9);transform-origin:left">Tiruvannamalai</span></div>
<div class="t" style="left:267px;top:1223.02px;width:258px;font-size:27.6px;line-height:27.6px;text-align:center;font-weight:400;color:#231f20;-webkit-text-stroke:0.15px"><span style="transform:scaleX(0.89);transform-origin:center">POCSO court</span></div>
<div class="t" style="left:525px;top:1223.02px;width:232.4px;font-size:27.6px;line-height:27.6px;text-align:center;font-weight:400;color:#231f20;-webkit-text-stroke:0.15px"><span style="transform:scaleX(0.97);transform-origin:center">263</span></div>
<div class="t" style="left:757.4px;top:1223.02px;width:236.6px;font-size:27.6px;line-height:27.6px;text-align:center;font-weight:400;color:#231f20;-webkit-text-stroke:0.15px"><span style="transform:scaleX(0.97);transform-origin:center"><b style="font-weight:inherit;display:inline-block;transform:scaleX(0.88);margin:0 -1.0px">1</b>42</span></div>
<div class="t" style="left:994px;top:1223.02px;width:197.3px;font-size:27.6px;line-height:27.6px;text-align:center;font-weight:700;color:#231f20;-webkit-text-stroke:0.45px"><span style="transform:scaleX(1.03);transform-origin:center">405</span></div>
<div class="t" style="left:23.5px;top:1261.9px;width:238.5px;font-size:27.6px;line-height:27.6px;text-align:left;font-weight:700;color:#231f20;-webkit-text-stroke:0.45px"><span style="transform:scaleX(0.9);transform-origin:left">Tiruvarur</span></div>
<div class="t" style="left:267px;top:1261.9px;width:258px;font-size:27.6px;line-height:27.6px;text-align:center;font-weight:400;color:#231f20;-webkit-text-stroke:0.15px"><span style="transform:scaleX(0.97);transform-origin:center">Mahila court</span></div>
<div class="t" style="left:525px;top:1261.9px;width:232.4px;font-size:27.6px;line-height:27.6px;text-align:center;font-weight:400;color:#231f20;-webkit-text-stroke:0.15px"><span style="transform:scaleX(0.97);transform-origin:center">59</span></div>
<div class="t" style="left:757.4px;top:1261.9px;width:236.6px;font-size:27.6px;line-height:27.6px;text-align:center;font-weight:400;color:#231f20;-webkit-text-stroke:0.15px"><span style="transform:scaleX(0.97);transform-origin:center"><b style="font-weight:inherit;display:inline-block;transform:scaleX(0.88);margin:0 -1.0px">1</b>92</span></div>
<div class="t" style="left:994px;top:1261.9px;width:197.3px;font-size:27.6px;line-height:27.6px;text-align:center;font-weight:700;color:#231f20;-webkit-text-stroke:0.45px"><span style="transform:scaleX(1.03);transform-origin:center">25<b style="font-weight:inherit;display:inline-block;transform:scaleX(0.78);margin:0 -2.5px">1</b></span></div>
<div class="t" style="left:23.5px;top:1300.78px;width:238.5px;font-size:27.6px;line-height:27.6px;text-align:left;font-weight:700;color:#231f20;-webkit-text-stroke:0.45px"><span style="transform:scaleX(0.9);transform-origin:left">Vellore</span></div>
<div class="t" style="left:267px;top:1300.78px;width:258px;font-size:27.6px;line-height:27.6px;text-align:center;font-weight:400;color:#231f20;-webkit-text-stroke:0.15px"><span style="transform:scaleX(0.89);transform-origin:center">POCSO court</span></div>
<div class="t" style="left:525px;top:1300.78px;width:232.4px;font-size:27.6px;line-height:27.6px;text-align:center;font-weight:400;color:#231f20;-webkit-text-stroke:0.15px"><span style="transform:scaleX(0.97);transform-origin:center">356</span></div>
<div class="t" style="left:757.4px;top:1300.78px;width:236.6px;font-size:27.6px;line-height:27.6px;text-align:center;font-weight:400;color:#231f20;-webkit-text-stroke:0.15px"><span style="transform:scaleX(0.97);transform-origin:center"><b style="font-weight:inherit;display:inline-block;transform:scaleX(0.88);margin:0 -1.0px">1</b>65</span></div>
<div class="t" style="left:994px;top:1300.78px;width:197.3px;font-size:27.6px;line-height:27.6px;text-align:center;font-weight:700;color:#231f20;-webkit-text-stroke:0.45px"><span style="transform:scaleX(1.03);transform-origin:center">52<b style="font-weight:inherit;display:inline-block;transform:scaleX(0.78);margin:0 -2.5px">1</b></span></div>
<div class="t" style="left:23.5px;top:1339.66px;width:238.5px;font-size:27.6px;line-height:27.6px;text-align:left;font-weight:700;color:#231f20;-webkit-text-stroke:0.45px"><span style="transform:scaleX(0.9);transform-origin:left">Villupuram</span></div>
<div class="t" style="left:267px;top:1339.66px;width:258px;font-size:27.6px;line-height:27.6px;text-align:center;font-weight:400;color:#231f20;-webkit-text-stroke:0.15px"><span style="transform:scaleX(0.89);transform-origin:center">POCSO court</span></div>
<div class="t" style="left:525px;top:1339.66px;width:232.4px;font-size:27.6px;line-height:27.6px;text-align:center;font-weight:400;color:#231f20;-webkit-text-stroke:0.15px"><span style="transform:scaleX(0.97);transform-origin:center">430</span></div>
<div class="t" style="left:757.4px;top:1339.66px;width:236.6px;font-size:27.6px;line-height:27.6px;text-align:center;font-weight:400;color:#231f20;-webkit-text-stroke:0.15px"><span style="transform:scaleX(0.97);transform-origin:center">99</span></div>
<div class="t" style="left:994px;top:1339.66px;width:197.3px;font-size:27.6px;line-height:27.6px;text-align:center;font-weight:700;color:#231f20;-webkit-text-stroke:0.45px"><span style="transform:scaleX(1.03);transform-origin:center">529</span></div>
<div class="t" style="left:23.5px;top:1378.54px;width:238.5px;font-size:27.6px;line-height:27.6px;text-align:left;font-weight:700;color:#231f20;-webkit-text-stroke:0.45px"><span style="transform:scaleX(0.9);transform-origin:left">Virudhunagar</span></div>
<div class="t" style="left:267px;top:1378.54px;width:258px;font-size:27.6px;line-height:27.6px;text-align:center;font-weight:400;color:#231f20;-webkit-text-stroke:0.15px"><span style="transform:scaleX(0.89);transform-origin:center">POCSO court</span></div>
<div class="t" style="left:525px;top:1378.54px;width:232.4px;font-size:27.6px;line-height:27.6px;text-align:center;font-weight:400;color:#231f20;-webkit-text-stroke:0.15px"><span style="transform:scaleX(0.97);transform-origin:center">229</span></div>
<div class="t" style="left:757.4px;top:1378.54px;width:236.6px;font-size:27.6px;line-height:27.6px;text-align:center;font-weight:400;color:#231f20;-webkit-text-stroke:0.15px"><span style="transform:scaleX(0.97);transform-origin:center">229</span></div>
<div class="t" style="left:994px;top:1378.54px;width:197.3px;font-size:27.6px;line-height:27.6px;text-align:center;font-weight:700;color:#231f20;-webkit-text-stroke:0.45px"><span style="transform:scaleX(1.03);transform-origin:center">458</span></div>
<div class="t" style="left:23.5px;top:1417.42px;width:238.5px;font-size:27.6px;line-height:27.6px;text-align:left;font-weight:700;color:#231f20;-webkit-text-stroke:0.45px"><span style="transform:scaleX(0.9);transform-origin:left">Total</span></div>
<div class="t" style="left:525px;top:1417.42px;width:232.4px;font-size:27.6px;line-height:27.6px;text-align:center;font-weight:700;color:#231f20;-webkit-text-stroke:0.45px"><span style="transform:scaleX(1.03);transform-origin:center">7<b style="font-weight:inherit;margin:0 -1px">,</b><b style="font-weight:inherit;display:inline-block;transform:scaleX(0.78);margin:0 -2.5px">1</b>87</span></div>
<div class="t" style="left:757.4px;top:1417.42px;width:236.6px;font-size:27.6px;line-height:27.6px;text-align:center;font-weight:700;color:#231f20;-webkit-text-stroke:0.45px"><span style="transform:scaleX(1.03);transform-origin:center">7<b style="font-weight:inherit;margin:0 -1px">,</b><b style="font-weight:inherit;display:inline-block;transform:scaleX(0.78);margin:0 -2.5px">1</b>93</span></div>
<div class="t" style="left:994px;top:1417.42px;width:197.3px;font-size:27.6px;line-height:27.6px;text-align:center;font-weight:700;color:#231f20;-webkit-text-stroke:0.45px"><span style="transform:scaleX(1.03);transform-origin:center"><b style="font-weight:inherit;display:inline-block;transform:scaleX(0.78);margin:0 -2.5px">1</b>4<b style="font-weight:inherit;margin:0 -1px">,</b>380</span></div>
<div class="t" style="left:9px;top:1453.77px;width:591px;font-size:26.5px;line-height:26.5px;text-align:left;font-weight:400;color:#231f20;-webkit-text-stroke:0.15px"><span style="transform:scaleX(0.99);transform-origin:left">Source: eCourts.gov.in</span></div>
<svg class="b" style="left:990px;top:0" width="202" height="160" viewBox="990 0 202 160">
<defs><clipPath id="cc"><circle cx="1085" cy="92" r="66"/></clipPath>
<g id="gv">
<rect x="-16.6" y="-30" width="33.2" height="13.4" rx="3"/>
<rect x="-13.3" y="-17.5" width="26.6" height="33"/>
<rect x="-16.6" y="14.5" width="33.2" height="13.8" rx="3"/>
<rect x="0" y="-10.5" width="94.5" height="21.3" rx="5"/>
</g></defs>
<circle cx="1085" cy="92" r="66" fill="#cbf99e"/>
<path d="M1083.5 7 L1169.5 53.8 L998.5 53.8 Z" fill="#211e1f" stroke="#211e1f" stroke-width="4" stroke-linejoin="round"/>
<circle cx="1084" cy="33" r="9.8" fill="#cbf99e"/>
<circle cx="1084" cy="33" r="3.7" fill="#211e1f"/>
<g fill="#211e1f">
<path d="M1016 62.2 L1082.5 62.2 L1077.5 67.3 L1019.5 67.3 Q1018 67.3 1017.5 66 Z"/>
<path d="M1096.2 62.2 L1152 62.2 L1150.5 66 Q1150 67.3 1148.5 67.3 L1103.2 67.3 Z"/>
<rect x="1025.1" y="73" width="4.7" height="49"/>
<rect x="1038.3" y="73" width="4.7" height="49"/>
<rect x="1050.3" y="73" width="4.7" height="49"/>
<path d="M1063.6 73 L1068.4 73 L1068.4 95 Q1068.4 97.3 1066 97.3 Q1063.6 97.3 1063.6 95 Z"/>
<path d="M1124.5 73 L1129.2 73 L1129.2 106.4 L1124.5 103.7 Z"/>
<path d="M1137.8 73 L1142.5 73 L1142.5 114.2 L1137.8 111.4 Z"/>
<path d="M1118.3 92.9 L1118.3 99.9 L1114.3 98.2 Z"/>
<path d="M1016.5 140 L1016.5 131 Q1016.5 128.3 1019.5 128.3 L1065.2 128.3 L1070.4 133.3 L1021 133.3 L1021 140 Z"/>
<path d="M1094.5 133 Q1099 127.8 1104 128.2 Q1109 128.5 1109.5 133 Z"/>
<rect x="1008.5" y="139" width="39.5" height="18.5" rx="3"/>
<rect x="1054" y="139" width="57" height="18.5" rx="4"/>
<path d="M1116 139 L1118 139 L1145.5 157.5 L1116.5 157.5 Z"/>
</g>
<g transform="translate(1086.5 99.9) rotate(31.5)">
<use href="#gv" fill="#efefef" stroke="#efefef" stroke-width="9" stroke-linejoin="round"/>
</g>
<g clip-path="url(#cc)"><g transform="translate(1086.5 99.9) rotate(31.5)">
<use href="#gv" fill="#cbf99e" stroke="#cbf99e" stroke-width="10" stroke-linejoin="round"/>
</g></g>
<g transform="translate(1086.5 99.9) rotate(31.5)">
<use href="#gv" fill="#211e1f"/>
</g>
<rect x="1084.65" y="98.05" width="3.7" height="3.7" fill="#cbf99e" transform="rotate(45 1086.5 99.9)"/>
</svg>

</body></html>
